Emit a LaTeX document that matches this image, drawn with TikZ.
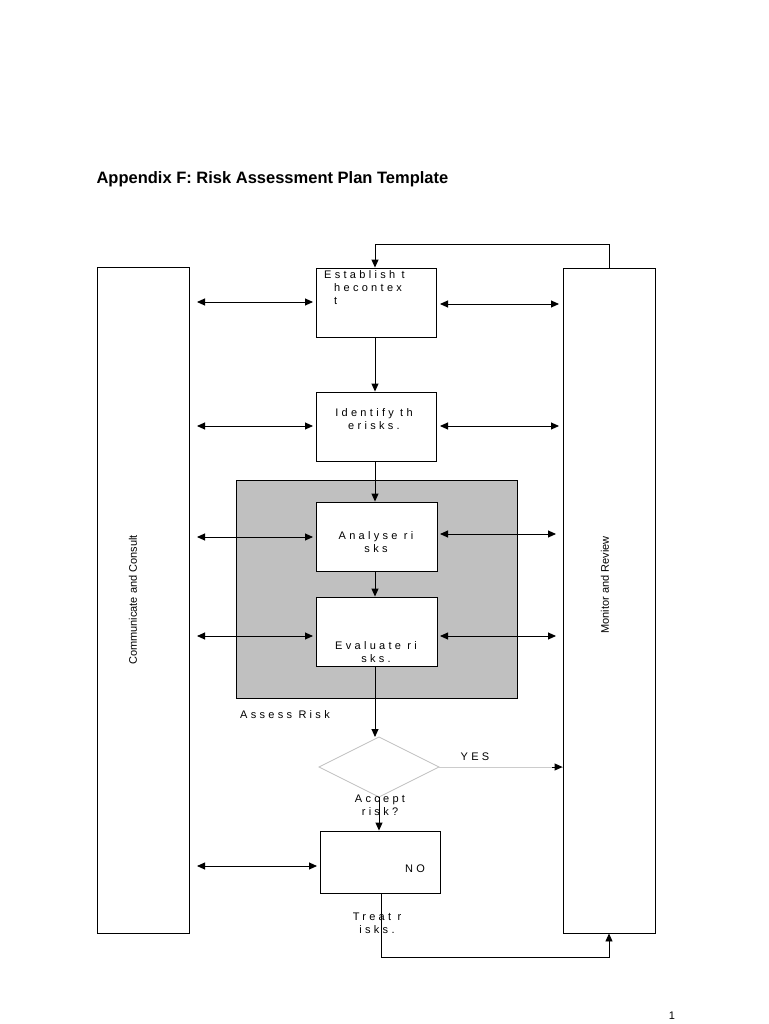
\documentclass[tikz,border=0pt]{standalone}
\usepackage{fontspec}
\setmainfont{Liberation Sans}
\newfontfamily\spaced{Liberation Sans}[LetterSpace=30]
\usetikzlibrary{arrows.meta}
\begin{document}
\begin{tikzpicture}[x=1pt,y=-1pt,
  box/.style={draw,line width=0.9pt},
  arr/.style={-{Triangle[length=8pt,width=7pt]},line width=0.9pt},
  darr/.style={{Triangle[length=8pt,width=7pt]}-{Triangle[length=8pt,width=7pt]},line width=0.9pt},
  lab/.style={font=\spaced\fontsize{11}{13}\selectfont,align=center,inner sep=0pt}]
\useasboundingbox (0,0) rectangle (768,1024);
\node[anchor=west,font=\bfseries\fontsize{16.5}{19}\selectfont] (title) at (93,179) {Appendix F: Risk Assessment Plan Template};
% side columns
\node[box,minimum width=92pt,minimum height=666pt,inner sep=0pt] (cc) at (143,600) {};
\node[rotate=90,font=\fontsize{11}{13}\selectfont] (cct) at (133,600) {Communicate and Consult};
\node[box,minimum width=92pt,minimum height=665pt,inner sep=0pt] (mr) at (609,600.5) {};
\node[rotate=90,font=\fontsize{11}{13}\selectfont] (mrt) at (605,585) {Monitor and Review};
% grey area
\node[draw,line width=0.9pt,fill={rgb,255:red,192;green,192;blue,192},minimum width=281pt,minimum height=218pt,inner sep=0pt] (ar) at (376.5,589) {};
\node[lab,anchor=west] (art) at (240,715) {Assess Risk};
% boxes
\node[box,fill=white,minimum width=120pt,minimum height=69pt,inner sep=0pt] (b1) at (376,302.5) {};
\node[lab,align=left,anchor=north west] at (324,270) {Establish t\\\hspace{10pt}hecontex\\\hspace{10pt}t};
\node[box,fill=white,minimum width=120pt,minimum height=69pt,inner sep=0pt] (b2) at (376,426.5) {};
\node[lab] at (374,419) {Identify th\\erisks.};
\node[box,fill=white,minimum width=121pt,minimum height=69pt,inner sep=0pt] (b3) at (376.5,536.5) {};
\node[lab] at (376,542) {Analyse ri\\sks};
\node[box,fill=white,minimum width=121pt,minimum height=69pt,inner sep=0pt] (b4) at (376.5,631.5) {};
\node[lab] at (376,652) {Evaluate ri\\sks.};
% diamond
\coordinate (dt) at (379,737); \coordinate (db) at (379,797);
\coordinate (dl) at (319,767); \coordinate (dr) at (439,767);
\draw[gray!50,line width=0.8pt] (dt) -- (dr) -- (db) -- (dl) -- cycle;
\node[lab] (acc) at (380,805) {Accept\\risk?};
% treat
\node[box,minimum width=120pt,minimum height=62pt,inner sep=0pt] (tr) at (380,862) {};
\node[lab] (no) at (415,869) {NO};
\node[lab] (trt) at (377,923) {Treat r\\isks.};
\node[lab] (yes) at (475,757) {YES};
% vertical flow
\draw[arr] (b1.south -| 375,0) -- (b2.north -| 375,0);
\draw[arr] (b2.south -| 375,0) -- (b3.north -| 375,0);
\draw[arr] (b3.south -| 375,0) -- (b4.north -| 375,0);
\draw[arr] (b4.south -| 375,0) -- (dt -| 375,0);
\draw[arr] (db) -- (tr.north -| db);
\draw[gray!40,line width=0.8pt] (dr) -- (mr.west |- dr);
\draw[-{Triangle[length=8pt,width=7pt]},line width=0.9pt] (552,767) -- (mr.west |- dr);
% feedback loops
\draw[arr] (mr.north) -- (609,244) -- (375,244) -- (b1.north -| 375,0);
\draw[arr] (tr.south -| 381,0) -- (381,957) -- (609,957) -- (mr.south);
% side arrows
\draw[darr] (197,302) -- (313,302);
\draw[darr] (197,426) -- (313,426);
\draw[darr] (197,537) -- (313,537);
\draw[darr] (197,636) -- (313,636);
\draw[darr] (197,866) -- (317,866);
\draw[darr] (440,304) -- (559,304);
\draw[darr] (440,426) -- (559,426);
\draw[darr] (440,534) -- (556,534);
\draw[darr] (440,636) -- (556,636);
\node[font=\fontsize{11}{13}\selectfont] (pg) at (672,1016) {1};
\end{tikzpicture}
\end{document}
